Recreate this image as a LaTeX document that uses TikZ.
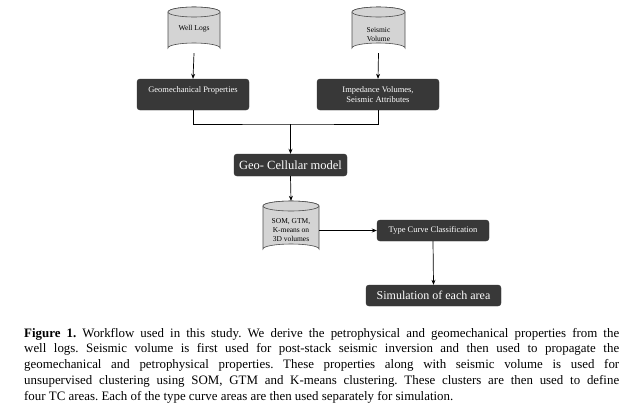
\documentclass[tikz,border=0pt]{standalone}
\usepackage{fontspec}
\setmainfont{Liberation Serif}
\usetikzlibrary{arrows.meta}
\begin{document}
\frenchspacing
\begin{tikzpicture}[x=1pt,y=-1pt,
  box/.style={draw=black!80,fill=black!78,text=white,rounded corners=3pt,align=center,inner sep=0pt},
  cyl/.style={draw=black!70,fill=black!17,line width=0.6pt},
  arr/.style={-{Stealth[length=5pt,width=4pt]},line width=0.7pt},
  ln/.style={line width=0.7pt}]
\useasboundingbox (0,0) rectangle (644,416);
% cylinders
\newcommand{\mycyl}[5]{% name, x1, x2, y1, y2
  \path[cyl] (#2,#4) -- (#2,#5) arc[start angle=180,end angle=360,x radius={(#3-#2)/2},y radius=5] -- (#3,#4) arc[start angle=0,end angle=-180,x radius={(#3-#2)/2},y radius=5] -- cycle;
  \path[cyl] ({(#2+#3)/2},#4) ellipse[x radius={(#3-#2)/2},y radius=5];
  \node[inner sep=0pt,minimum width={#3-#2},minimum height={#5-#4+10}] (#1) at ({(#2+#3)/2},{(#4+#5)/2}) {};}
\mycyl{wl}{168}{220}{12}{48}
\mycyl{sv}{352}{405}{12}{48}
\mycyl{som}{263}{319}{206}{249}
\node[font=\fontsize{7.5}{8}\selectfont] at (194,29) {Well Logs};
\node[font=\fontsize{7.5}{9}\selectfont,align=center] at (378.5,35) {Seismic\\Volume};
\node[font=\fontsize{7.5}{8.7}\selectfont,align=center] at (291,230) {SOM, GTM,\\K-means on\\3D volumes};
\node[box,minimum width=112pt,minimum height=31pt,font=\fontsize{8.5}{9}\selectfont] (gp) at (193,94.5) {\raisebox{9pt}{Geomechanical Properties}};
\node[box,minimum width=122pt,minimum height=31pt,font=\fontsize{8.5}{10}\selectfont] (iv) at (378,94.5) {Impedance Volumes,\\Seismic Attributes};
\node[box,minimum width=113pt,minimum height=22pt,font=\fontsize{12.5}{14}\selectfont] (gc) at (290.5,165) {Geo- Cellular model};
\node[box,minimum width=112pt,minimum height=21pt,font=\fontsize{8.5}{10}\selectfont] (tc) at (433,230.5) {Type Curve Classification};
\node[box,minimum width=135pt,minimum height=21pt,font=\fontsize{12}{14}\selectfont] (sim) at (433.5,295.5) {Simulation of each area};
\coordinate (j) at (290.5,124);
\draw[arr] (wl.south) -- (gp.north);
\draw[arr] (sv.south) -- (iv.north);
\draw[ln] (gp.south) |- (j) -| (iv.south);
\draw[arr] (j) -- (gc.north);
\draw[arr] (gc.south) -- (som.north);
\draw[arr] (som.east |- tc.west) -- (tc.west);
\draw[arr] (tc.south) -- (sim.north);
\node[anchor=north west,inner sep=0pt,text width=595pt,align=justify,font=\fontsize{12.9}{15.7}\selectfont] (cap) at (24,328) {\textbf{Figure 1.} Workflow used in this study. We derive the petrophysical and geomechanical properties from the\linebreak well logs. Seismic volume is first used for post-stack seismic inversion and then used to propagate the\linebreak geomechanical and petrophysical properties. These properties along with seismic volume is used for\linebreak unsupervised clustering using SOM, GTM and K-means clustering. These clusters are then used to define\linebreak four TC areas. Each of the type curve areas are then used separately for simulation.};
\end{tikzpicture}
\end{document}
